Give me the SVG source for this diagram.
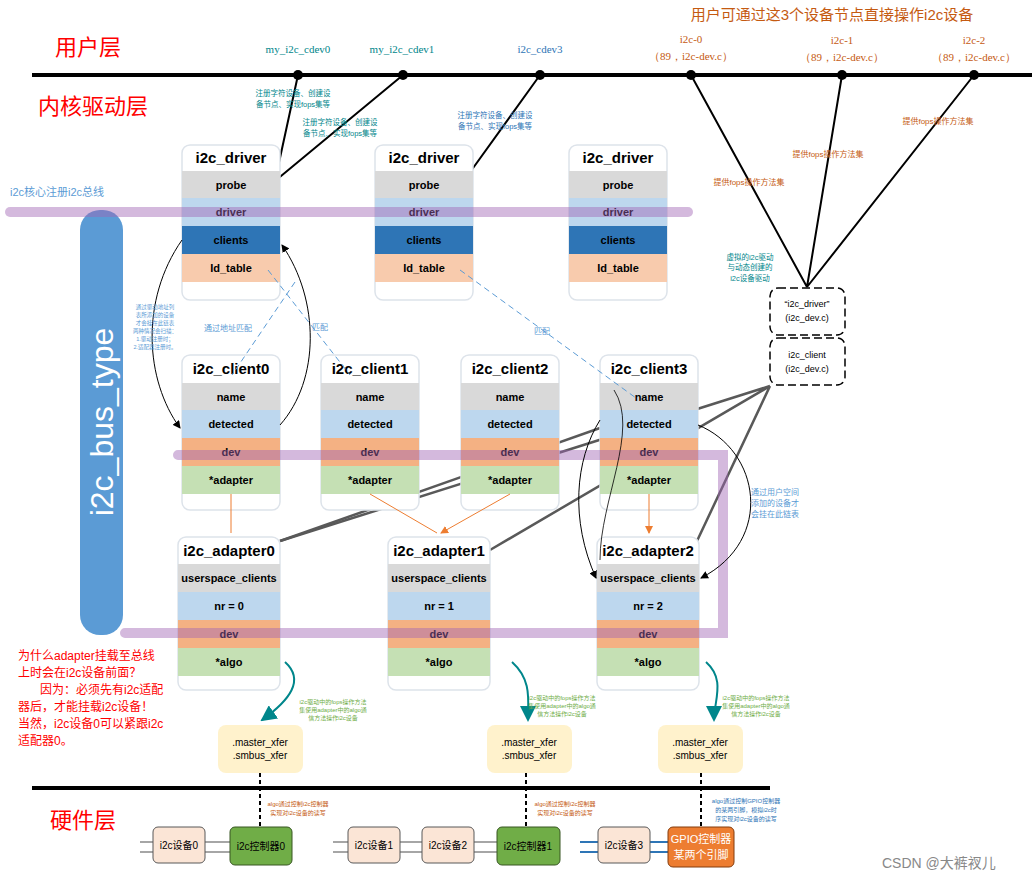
<svg xmlns="http://www.w3.org/2000/svg" width="1036" height="884" viewBox="0 0 1036 884">
<style>
text{font-family:"Liberation Sans","Noto Sans CJK SC",sans-serif}
.card{fill:#fff;stroke:#dde3ea;stroke-width:1.5}
.tt{font-size:15px;font-weight:bold;text-anchor:middle;fill:#000}
.rt{font-size:11px;font-weight:bold;text-anchor:middle;fill:#000}
.g{fill:#d9d9d9}.b{fill:#bdd7ee}.d{fill:#2e75b6}.o{fill:#f8cbad}.oo{fill:#f4b183}.gr{fill:#c5e0b4}
.big{font-size:22px;fill:#ff0000}
.sm{font-size:7px;text-anchor:middle}
.hw{fill:#fbe5d6;stroke:#595959;stroke-width:1}
.hl{stroke:#a6a6a6;stroke-width:2}
</style>
<defs>
<marker id="ab" markerWidth="8" markerHeight="8" refX="7" refY="4" orient="auto"><path d="M0,0L8,4L0,8z" fill="#000"/></marker>
<marker id="ao" markerWidth="8" markerHeight="8" refX="7" refY="4" orient="auto"><path d="M0,0L8,4L0,8z" fill="#ed7d31"/></marker>
<marker id="at" markerWidth="8" markerHeight="8" refX="7" refY="4" orient="auto"><path d="M0,0L8,4L0,8z" fill="#00868b"/></marker>
</defs>
<rect width="1036" height="884" fill="#fff"/>
<text x="55" y="55" class="big">用户层</text>
<text x="38" y="114" class="big">内核驱动层</text>
<text x="50" y="828" class="big">硬件层</text>
<text x="832" y="20" font-size="15" fill="#c55a11" text-anchor="middle">用户可通过这3个设备节点直接操作i2c设备</text>
<g font-family="Liberation Serif" font-size="11" text-anchor="middle">
<text x="298" y="53" fill="#00868b" style="font-family:'Liberation Serif'">my_i2c_cdev0</text>
<text x="402" y="53" fill="#00868b" style="font-family:'Liberation Serif'">my_i2c_cdev1</text>
<text x="540" y="53" fill="#2e75b6" style="font-family:'Liberation Serif'">i2c_cdev3</text>
<text x="691" y="43" fill="#c55a11" style="font-family:'Liberation Serif'">i2c-0</text>
<text x="691" y="60" fill="#c55a11" style="font-family:'Liberation Serif'">（89，i2c-dev.c）</text>
<text x="842" y="44" fill="#c55a11" style="font-family:'Liberation Serif'">i2c-1</text>
<text x="842" y="61" fill="#c55a11" style="font-family:'Liberation Serif'">（89，i2c-dev.c）</text>
<text x="974" y="44" fill="#c55a11" style="font-family:'Liberation Serif'">i2c-2</text>
<text x="974" y="61" fill="#c55a11" style="font-family:'Liberation Serif'">（89，i2c-dev.c）</text>
</g>
<g id="connectors">
<line x1="32" y1="75" x2="1032" y2="75" stroke="#000" stroke-width="4"/>
<circle cx="298" cy="75" r="5"/><circle cx="403" cy="75" r="5"/><circle cx="540" cy="75" r="5"/>
<circle cx="691" cy="75" r="5"/><circle cx="842" cy="75" r="5"/><circle cx="974" cy="75" r="5"/>
<path d="M298,75L275,181M403,75L275,181M540,75L463,182" stroke="#000" stroke-width="2" fill="none"/>
<path d="M691,75L807,287M842,75L807,287M974,75L807,287" stroke="#000" stroke-width="2" fill="none"/>
<line x1="32" y1="788" x2="770" y2="788" stroke="#000" stroke-width="4"/>
<path d="M770,386L280,541M770,386L490,550M770,386L697,541" stroke="#595959" stroke-width="2.5" fill="none"/>
<path d="M600,428L280,541" stroke="#595959" stroke-width="2.5" fill="none"/>
</g>
<g font-size="7.5" text-anchor="middle" fill="#00868b">
<text x="293" y="96">注册字符设备、创建设</text><text x="293" y="107">备节点、实现fops集等</text>
<text x="340" y="125">注册字符设备、创建设</text><text x="340" y="136">备节点、实现fops集等</text>
<text x="495" y="118" fill="#2e75b6">注册字符设备、创建设</text><text x="495" y="129" fill="#2e75b6">备节点、实现fops集等</text>
<text x="750" y="260">虚拟的i2c驱动</text><text x="750" y="270">与动态创建的</text><text x="750" y="281">i2c设备驱动</text>
</g>
<g font-size="8" text-anchor="middle" fill="#c55a11">
<text x="749" y="185">提供fops操作方法集</text><text x="828" y="157">提供fops操作方法集</text><text x="938" y="124">提供fops操作方法集</text>
</g>
<text x="10" y="196" font-size="11" fill="#5b9bd5">i2c核心注册i2c总线</text>

<g id="bus"><rect x="80" y="210" width="43" height="425" rx="20" fill="#5b9bd5"/>
<text transform="translate(113,422) rotate(-90)" font-size="32" fill="#fff" text-anchor="middle">i2c_bus_type</text></g>

<g id="driver0"><rect class="card" x="182" y="145" width="98" height="155" rx="8"/><text class="tt" x="231" y="163">i2c_driver</text>
<rect class="g" x="182" y="171" width="98" height="27"/><rect class="b" x="182" y="198" width="98" height="28"/><rect class="d" x="182" y="226" width="98" height="28"/><rect class="o" x="182" y="254" width="98" height="28"/>
<text class="rt" x="231" y="189">probe</text><text class="rt" x="231" y="216">driver</text><text class="rt" x="231" y="244">clients</text><text class="rt" x="231" y="272">Id_table</text></g>
<g id="driver1"><rect class="card" x="375" y="145" width="98" height="155" rx="8"/><text class="tt" x="424" y="163">i2c_driver</text>
<rect class="g" x="375" y="171" width="98" height="27"/><rect class="b" x="375" y="198" width="98" height="28"/><rect class="d" x="375" y="226" width="98" height="28"/><rect class="o" x="375" y="254" width="98" height="28"/>
<text class="rt" x="424" y="189">probe</text><text class="rt" x="424" y="216">driver</text><text class="rt" x="424" y="244">clients</text><text class="rt" x="424" y="272">Id_table</text></g>
<g id="driver2"><rect class="card" x="569" y="145" width="98" height="155" rx="8"/><text class="tt" x="618" y="163">i2c_driver</text>
<rect class="g" x="569" y="171" width="98" height="27"/><rect class="b" x="569" y="198" width="98" height="28"/><rect class="d" x="569" y="226" width="98" height="28"/><rect class="o" x="569" y="254" width="98" height="28"/>
<text class="rt" x="618" y="189">probe</text><text class="rt" x="618" y="216">driver</text><text class="rt" x="618" y="244">clients</text><text class="rt" x="618" y="272">Id_table</text></g>

<g id="client0"><rect class="card" x="182" y="355" width="98" height="155" rx="8"/><text class="tt" x="231" y="374">i2c_client0</text>
<rect class="g" x="182" y="383" width="98" height="27"/><rect class="b" x="182" y="410" width="98" height="28"/><rect class="oo" x="182" y="438" width="98" height="28"/><rect class="gr" x="182" y="466" width="98" height="28"/>
<text class="rt" x="231" y="401">name</text><text class="rt" x="231" y="428">detected</text><text class="rt" x="231" y="456">dev</text><text class="rt" x="231" y="484">*adapter</text></g>
<g id="client1"><rect class="card" x="321" y="355" width="98" height="155" rx="8"/><text class="tt" x="370" y="374">i2c_client1</text>
<rect class="g" x="321" y="383" width="98" height="27"/><rect class="b" x="321" y="410" width="98" height="28"/><rect class="oo" x="321" y="438" width="98" height="28"/><rect class="gr" x="321" y="466" width="98" height="28"/>
<text class="rt" x="370" y="401">name</text><text class="rt" x="370" y="428">detected</text><text class="rt" x="370" y="456">dev</text><text class="rt" x="370" y="484">*adapter</text></g>
<g id="client2"><rect class="card" x="461" y="355" width="98" height="155" rx="8"/><text class="tt" x="510" y="374">i2c_client2</text>
<rect class="g" x="461" y="383" width="98" height="27"/><rect class="b" x="461" y="410" width="98" height="28"/><rect class="oo" x="461" y="438" width="98" height="28"/><rect class="gr" x="461" y="466" width="98" height="28"/>
<text class="rt" x="510" y="401">name</text><text class="rt" x="510" y="428">detected</text><text class="rt" x="510" y="456">dev</text><text class="rt" x="510" y="484">*adapter</text></g>
<g id="client3"><rect class="card" x="600" y="355" width="98" height="155" rx="8"/><text class="tt" x="649" y="374">i2c_client3</text>
<rect class="g" x="600" y="383" width="98" height="27"/><rect class="b" x="600" y="410" width="98" height="28"/><rect class="oo" x="600" y="438" width="98" height="28"/><rect class="gr" x="600" y="466" width="98" height="28"/>
<text class="rt" x="649" y="401">name</text><text class="rt" x="649" y="428">detected</text><text class="rt" x="649" y="456">dev</text><text class="rt" x="649" y="484">*adapter</text></g>

<g id="adapter0"><rect class="card" x="178" y="537" width="102" height="153" rx="8"/><text class="tt" x="229" y="556">i2c_adapter0</text>
<rect class="g" x="178" y="564" width="102" height="28"/><rect class="b" x="178" y="592" width="102" height="28"/><rect class="oo" x="178" y="620" width="102" height="28"/><rect class="gr" x="178" y="648" width="102" height="28"/>
<text class="rt" x="229" y="582">userspace_clients</text><text class="rt" x="229" y="610">nr = 0</text><text class="rt" x="229" y="638">dev</text><text class="rt" x="229" y="666">*algo</text></g>
<g id="adapter1"><rect class="card" x="388" y="537" width="102" height="153" rx="8"/><text class="tt" x="439" y="556">i2c_adapter1</text>
<rect class="g" x="388" y="564" width="102" height="28"/><rect class="b" x="388" y="592" width="102" height="28"/><rect class="oo" x="388" y="620" width="102" height="28"/><rect class="gr" x="388" y="648" width="102" height="28"/>
<text class="rt" x="439" y="582">userspace_clients</text><text class="rt" x="439" y="610">nr = 1</text><text class="rt" x="439" y="638">dev</text><text class="rt" x="439" y="666">*algo</text></g>
<g id="adapter2"><rect class="card" x="597" y="537" width="102" height="153" rx="8"/><text class="tt" x="648" y="556">i2c_adapter2</text>
<rect class="g" x="597" y="564" width="102" height="28"/><rect class="b" x="597" y="592" width="102" height="28"/><rect class="oo" x="597" y="620" width="102" height="28"/><rect class="gr" x="597" y="648" width="102" height="28"/>
<text class="rt" x="648" y="582">userspace_clients</text><text class="rt" x="648" y="610">nr = 2</text><text class="rt" x="648" y="638">dev</text><text class="rt" x="648" y="666">*algo</text></g>

<g id="buslines" fill="none" stroke="#a064b4" stroke-opacity="0.45" stroke-width="10" stroke-linecap="round">
<line x1="10" y1="212" x2="688" y2="212"/>
<path d="M178,455H723V633H125"/>
</g>

<g id="arrows" fill="none">
<path d="M231,494V533M649,494V533" stroke="#ed7d31" marker-end="url(#ao)"/>
<path d="M370,494L437,533M510,494L441,533" stroke="#ed7d31" marker-end="url(#ao)"/>
<path d="M182,240C140,300 145,380 180,428" stroke="#000" marker-end="url(#ab)"/>
<path d="M280,425C320,380 320,300 282,245" stroke="#000" marker-end="url(#ab)"/>
<path d="M600,420C575,460 570,520 596,578" stroke="#000" marker-end="url(#ab)"/>
<path d="M698,425C760,450 775,540 701,578" stroke="#000" marker-end="url(#ab)"/>
<path d="M614,390C640,430 600,500 600,560" stroke="#000" stroke-width="0.8"/>
<path d="M265,648C260,700 230,705 260,718" stroke="none"/>
<path d="M285,662C305,680 290,700 262,720" stroke="#00868b" stroke-width="2" marker-end="url(#at)"/>
<path d="M512,662C532,680 528,700 528,720" stroke="#00868b" stroke-width="2" marker-end="url(#at)"/>
<path d="M706,662C726,680 714,700 714,720" stroke="#00868b" stroke-width="2" marker-end="url(#at)"/>
<path d="M295,282L232,375" stroke="#5b9bd5" stroke-dasharray="6,4"/>
<path d="M268,270L350,375" stroke="#5b9bd5" stroke-dasharray="6,4"/>
<path d="M460,270L636,398" stroke="#5b9bd5" stroke-dasharray="6,4"/>
<path d="M260,773V827M526,773V827M701,773V827" stroke="#000" stroke-width="2" stroke-dasharray="4,3"/>
</g>
<g font-size="8" fill="#5b9bd5" text-anchor="middle">
<text x="228" y="331">通过地址匹配</text><text x="320" y="330">匹配</text><text x="542" y="334">匹配</text>
<text x="775" y="495">通过用户空间</text><text x="775" y="506">添加的设备才</text><text x="775" y="517">会挂在此链表</text>
</g>
<g font-size="5.5" fill="#5b9bd5" text-anchor="middle">
<text x="155" y="309">通过驱动地址列</text><text x="155" y="317">表所添加的设备</text><text x="155" y="325">才会挂在此链表</text><text x="155" y="333">两种情况会扫描：</text><text x="155" y="341">1.驱动注册时；</text><text x="155" y="349">2.适配器注册时。</text>
</g>
<g font-size="6" fill="#70ad47" text-anchor="middle">
<text x="333" y="704">i2c驱动中的fops操作方法</text><text x="333" y="712">集使用adapter中的algo通</text><text x="333" y="720">信方法操作i2c设备</text>
<text x="562" y="700">i2c驱动中的fops操作方法</text><text x="562" y="708">集使用adapter中的algo通</text><text x="562" y="716">信方法操作i2c设备</text>
<text x="756" y="700">i2c驱动中的fops操作方法</text><text x="756" y="708">集使用adapter中的algo通</text><text x="756" y="716">信方法操作i2c设备</text>
</g>
<g font-size="6" fill="#c55a11" text-anchor="middle">
<text x="298" y="806">algo通过控制i2c控制器</text><text x="298" y="815">实现对i2c设备的读写</text>
<text x="565" y="806">algo通过控制i2c控制器</text><text x="565" y="815">实现对i2c设备的读写</text>
</g>
<g font-size="6" fill="#2e75b6" text-anchor="middle">
<text x="746" y="803">algo通过控制GPIO控制器</text><text x="746" y="812">的某两引脚，模拟i2c时</text><text x="746" y="821">序实现对i2c设备的读写</text>
</g>

<g id="virt"><rect x="770" y="288" width="75" height="47" rx="8" fill="#fff" stroke="#000" stroke-dasharray="8,4" stroke-width="1.5"/>
<text x="807" y="307" font-size="9" text-anchor="middle">“i2c_driver”</text><text x="807" y="321" font-size="9" text-anchor="middle">(i2c_dev.c)</text>
<rect x="770" y="338" width="75" height="47" rx="8" fill="#fff" stroke="#000" stroke-dasharray="8,4" stroke-width="1.5"/>
<text x="807" y="358" font-size="9" text-anchor="middle">i2c_client</text><text x="807" y="372" font-size="9" text-anchor="middle">(i2c_dev.c)</text></g>

<g id="xfer" font-size="10" text-anchor="middle">
<rect x="218" y="725" width="85" height="48" rx="8" fill="#fff2cc"/><text x="260" y="746">.master_xfer</text><text x="260" y="759">.smbus_xfer</text>
<rect x="487" y="725" width="85" height="48" rx="8" fill="#fff2cc"/><text x="529" y="746">.master_xfer</text><text x="529" y="759">.smbus_xfer</text>
<rect x="658" y="725" width="85" height="48" rx="8" fill="#fff2cc"/><text x="700" y="746">.master_xfer</text><text x="700" y="759">.smbus_xfer</text>
</g>

<g id="hw" font-size="10" text-anchor="middle">
<path class="hl" d="M140,842H230M140,852H230M333,842H497M333,852H497"/>
<path d="M580,842H668M580,852H668" stroke="#2e75b6" stroke-width="2"/>
<rect class="hw" x="153" y="827" width="52" height="36" rx="5"/><text x="179" y="849">i2c设备0</text>
<rect x="230" y="827" width="62" height="38" rx="5" fill="#70ad47" stroke="#385723"/><text x="261" y="850">i2c控制器0</text>
<rect class="hw" x="348" y="827" width="52" height="36" rx="5"/><text x="374" y="849">i2c设备1</text>
<rect class="hw" x="422" y="827" width="52" height="36" rx="5"/><text x="448" y="849">i2c设备2</text>
<rect x="497" y="827" width="63" height="38" rx="5" fill="#70ad47" stroke="#385723"/><text x="528" y="850">i2c控制器1</text>
<rect class="hw" x="598" y="827" width="52" height="36" rx="5"/><text x="624" y="849">i2c设备3</text>
<rect x="668" y="827" width="66" height="40" rx="5" fill="#ed7d31" stroke="#843c0c"/><text x="701" y="843" fill="#fff" font-size="11">GPIO控制器</text><text x="701" y="859" fill="#fff" font-size="11">某两个引脚</text>
</g>
<g font-size="12" fill="#ff0000">
<text x="18" y="660">为什么adapter挂载至总线</text><text x="18" y="677">上时会在i2c设备前面？</text>
<text x="40" y="694">因为：必须先有i2c适配</text><text x="18" y="711">器后，才能挂载i2c设备！</text>
<text x="18" y="728">当然，i2c设备0可以紧跟i2c</text><text x="18" y="745">适配器0。</text>
</g>
<text x="882" y="868" font-size="14" fill="#888">CSDN @大裤衩儿</text>
</svg>
